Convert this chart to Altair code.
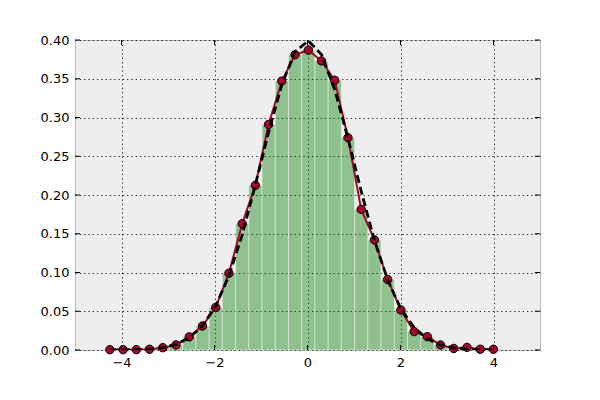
import altair as alt
import pandas as pd

# Histogram bin edges (30 bins)
bin_edges = [-4.392, -4.108, -3.823, -3.539, -3.254, -2.970, -2.685, -2.401,
             -2.116, -1.832, -1.548, -1.263, -0.979, -0.694, -0.410, -0.125,
             0.159, 0.444, 0.728, 1.013, 1.297, 1.581, 1.866, 2.150, 2.435,
             2.719, 3.004, 3.288, 3.573, 3.857, 4.142]
# Bin centres
bin_centers = [-4.250, -3.966, -3.681, -3.397, -3.112, -2.828, -2.543, -2.259,
               -1.974, -1.690, -1.405, -1.121, -0.837, -0.552, -0.268, 0.017,
               0.301, 0.586, 0.870, 1.155, 1.439, 1.724, 2.008, 2.293, 2.577,
               2.861, 3.146, 3.430, 3.715, 3.999]
# Histogram density
hist_density = [0.0004, 0.0004, 0.0004, 0.001, 0.003, 0.0065, 0.017, 0.031,
                0.055, 0.099, 0.163, 0.2125, 0.291, 0.347, 0.381, 0.387,
                0.373, 0.348, 0.274, 0.1815, 0.142, 0.091, 0.0516, 0.0237,
                0.0172, 0.0065, 0.002, 0.0034, 0.001, 0.001]
# Dashed reference curve values at bin centres
ref_density = [0.0000, 0.0002, 0.0005, 0.0012, 0.0031, 0.0073, 0.0157, 0.0311,
               0.0568, 0.0957, 0.1486, 0.2131, 0.2811, 0.3424, 0.3848, 0.3989,
               0.3813, 0.3359, 0.2732, 0.2047, 0.1415, 0.0904, 0.0530, 0.0288,
               0.0144, 0.0067, 0.0028, 0.0011, 0.0004, 0.0001]

x_ticks = [-4, -2, 0, 2, 4]
y_ticks = [0.00, 0.05, 0.10, 0.15, 0.20, 0.25, 0.30, 0.35, 0.40]

W, H = 465, 310

df = pd.DataFrame({
    "left": bin_edges[:-1],
    "right": bin_edges[1:],
    "center": bin_centers,
    "density": hist_density,
    "ref": ref_density,
})
dfx = pd.DataFrame({"v": x_ticks})
dfy = pd.DataFrame({"v": y_ticks})

xscale = alt.Scale(domain=[-5, 5], nice=False, zero=False)
yscale = alt.Scale(domain=[0, 0.4], nice=False, zero=False)

xax = alt.Axis(values=x_ticks, format="d", labelOverlap=False, title=None)
yax = alt.Axis(values=y_ticks, format=".2f", labelOverlap=False, title=None)

base = alt.Chart(df)

bars = base.mark_rect(color="#008000", opacity=0.4, stroke="white",
                      strokeWidth=1, strokeOpacity=0.6).encode(
    x=alt.X("left:Q", scale=xscale, axis=xax),
    x2="right:Q",
    y=alt.Y("density:Q", scale=yscale, axis=yax),
    y2=alt.datum(0),
)

red_line = base.mark_line(color="#A60628", strokeWidth=2, clip=True).encode(
    x=alt.X("center:Q", scale=xscale, axis=xax),
    y=alt.Y("density:Q", scale=yscale, axis=yax),
)

red_pts = base.mark_point(filled=True, fill="#A60628", stroke="black",
                          strokeWidth=1, size=70, opacity=1, shape="circle").encode(
    x=alt.X("center:Q", scale=xscale, axis=xax),
    y=alt.Y("density:Q", scale=yscale, axis=yax),
)

dashed = base.mark_line(color="black", strokeWidth=2.8, strokeDash=[8, 4],
                        clip=True).encode(
    x=alt.X("center:Q", scale=xscale, axis=xax),
    y=alt.Y("ref:Q", scale=yscale, axis=yax),
)

tick_style = dict(color="black", strokeWidth=1)
xt_bottom = alt.Chart(dfx).mark_rule(**tick_style).encode(
    x=alt.X("v:Q", scale=xscale, axis=xax), y=alt.value(H), y2=alt.value(H - 5))
xt_top = alt.Chart(dfx).mark_rule(**tick_style).encode(
    x=alt.X("v:Q", scale=xscale, axis=xax), y=alt.value(0), y2=alt.value(5))
yt_left = alt.Chart(dfy).mark_rule(**tick_style).encode(
    y=alt.Y("v:Q", scale=yscale, axis=yax), x=alt.value(0), x2=alt.value(5))
yt_right = alt.Chart(dfy).mark_rule(**tick_style).encode(
    y=alt.Y("v:Q", scale=yscale, axis=yax), x=alt.value(W), x2=alt.value(W - 5))

chart = alt.layer(
    bars, red_line, red_pts, dashed, xt_bottom, xt_top, yt_left, yt_right
).properties(
    width=W, height=H,
    autosize=alt.AutoSizeParams(type="none"),
    padding={"left": 67, "top": 32, "right": 52, "bottom": 42},
    background="white",
).configure_view(
    fill="#eeeeee", stroke="#bcbcbc", strokeWidth=1
).configure_axis(
    grid=True, gridColor="#111111", gridWidth=0.9, gridDash=[1.3, 3],
    ticks=False, domain=False, labelFont="DejaVu Sans",
    labelFontSize=13, labelColor="black", labelPadding=6,
)

chart.save("out.html", embed_options={"renderer": "svg", "actions": False})
